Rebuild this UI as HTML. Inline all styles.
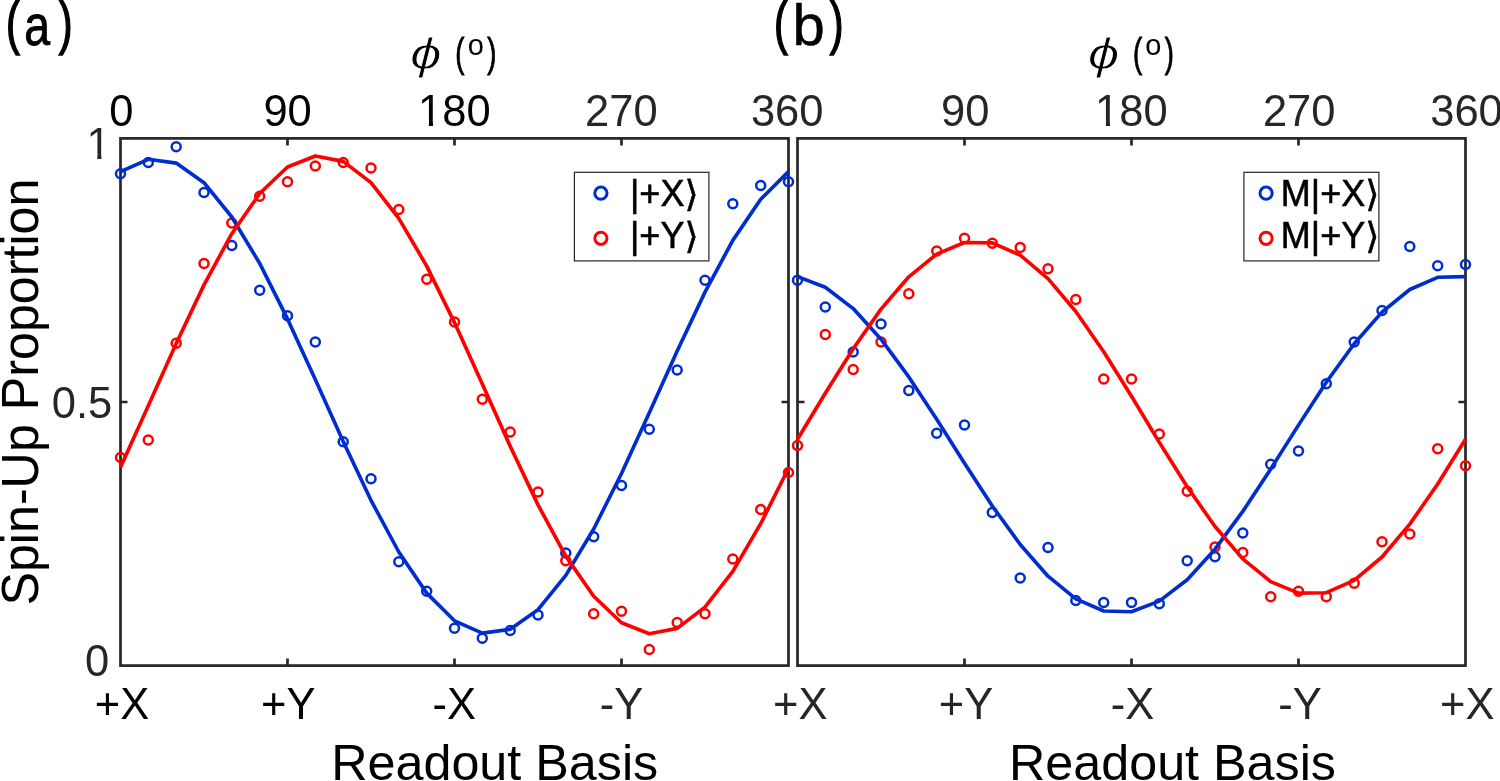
<!DOCTYPE html>
<html lang="en"><head><meta charset="utf-8"><title>Spin-Up Proportion vs Readout Basis</title>
<style>html,body{margin:0;padding:0;background:#fff;overflow:hidden}svg{display:block}text{font-family:"Liberation Sans","DejaVu Sans",sans-serif}.tk{font-size:43.5px}.lb{font-size:50px}.pn{font-size:58px;stroke:#000;stroke-width:.9px}.lg{font-size:36px;stroke:#000;stroke-width:.55px}</style>
</head><body>
<svg width="1500" height="781" viewBox="0 0 1500 781">
<defs><clipPath id="k1"><polygon points="3.19,-31.86 15.29,-31.86 14.87,0.17 10.79,0.17 10.79,-4.89 3.19,-4.89"/></clipPath></defs>
<rect width="1500" height="781" fill="#fff"/>
<rect x="120.5" y="138.4" width="668.0" height="527.2" fill="none" stroke="#262626" stroke-width="2.7"/>
<path d="M287.5,665.6v-7M287.5,138.4v7M454.5,665.6v-7M454.5,138.4v7M621.5,665.6v-7M621.5,138.4v7M120.5,402.0h7M788.5,402.0h-7" stroke="#262626" stroke-width="2.7" fill="none"/>
<g fill="none" stroke="#002dcd" stroke-width="2.5">
<circle cx="120.5" cy="173.8" r="4.5"/>
<circle cx="148.3" cy="162.5" r="4.5"/>
<circle cx="176.2" cy="146.8" r="4.5"/>
<circle cx="204.0" cy="192.5" r="4.5"/>
<circle cx="231.8" cy="245.5" r="4.5"/>
<circle cx="259.7" cy="290.2" r="4.5"/>
<circle cx="287.5" cy="315.8" r="4.5"/>
<circle cx="315.3" cy="342.0" r="4.5"/>
<circle cx="343.2" cy="441.8" r="4.5"/>
<circle cx="371.0" cy="478.8" r="4.5"/>
<circle cx="398.8" cy="561.8" r="4.5"/>
<circle cx="426.7" cy="591.2" r="4.5"/>
<circle cx="454.5" cy="628.2" r="4.5"/>
<circle cx="482.3" cy="638.2" r="4.5"/>
<circle cx="510.2" cy="630.5" r="4.5"/>
<circle cx="538.0" cy="615.0" r="4.5"/>
<circle cx="565.8" cy="553.0" r="4.5"/>
<circle cx="593.7" cy="536.8" r="4.5"/>
<circle cx="621.5" cy="485.5" r="4.5"/>
<circle cx="649.3" cy="429.2" r="4.5"/>
<circle cx="677.2" cy="370.0" r="4.5"/>
<circle cx="705.0" cy="280.2" r="4.5"/>
<circle cx="732.8" cy="203.8" r="4.5"/>
<circle cx="760.7" cy="185.5" r="4.5"/>
<circle cx="788.5" cy="181.8" r="4.5"/>
</g>
<g fill="none" stroke="#ff0000" stroke-width="2.5">
<circle cx="120.5" cy="457.5" r="4.5"/>
<circle cx="148.3" cy="440.0" r="4.5"/>
<circle cx="176.2" cy="343.2" r="4.5"/>
<circle cx="204.0" cy="263.5" r="4.5"/>
<circle cx="231.8" cy="223.0" r="4.5"/>
<circle cx="259.7" cy="196.2" r="4.5"/>
<circle cx="287.5" cy="181.8" r="4.5"/>
<circle cx="315.3" cy="166.0" r="4.5"/>
<circle cx="343.2" cy="162.5" r="4.5"/>
<circle cx="371.0" cy="168.0" r="4.5"/>
<circle cx="398.8" cy="209.5" r="4.5"/>
<circle cx="426.7" cy="279.2" r="4.5"/>
<circle cx="454.5" cy="322.0" r="4.5"/>
<circle cx="482.3" cy="399.2" r="4.5"/>
<circle cx="510.2" cy="432.0" r="4.5"/>
<circle cx="538.0" cy="492.0" r="4.5"/>
<circle cx="565.8" cy="560.8" r="4.5"/>
<circle cx="593.7" cy="613.8" r="4.5"/>
<circle cx="621.5" cy="611.2" r="4.5"/>
<circle cx="649.3" cy="649.5" r="4.5"/>
<circle cx="677.2" cy="622.5" r="4.5"/>
<circle cx="705.0" cy="613.8" r="4.5"/>
<circle cx="732.8" cy="559.0" r="4.5"/>
<circle cx="760.7" cy="509.5" r="4.5"/>
<circle cx="788.5" cy="472.5" r="4.5"/>
</g>
<polyline fill="none" stroke="#002dcd" stroke-width="3.65" stroke-linejoin="round" points="120.5,171.6 148.3,159.3 176.2,163.1 204.0,182.7 231.8,217.0 259.7,263.4 287.5,318.9 315.3,379.6 343.2,441.5 371.0,500.3 398.8,552.0 426.7,593.1 454.5,620.8 482.3,633.1 510.2,629.3 538.0,609.7 565.8,575.4 593.7,529.0 621.5,473.5 649.3,412.8 677.2,350.9 705.0,292.1 732.8,240.4 760.7,199.3 788.5,171.6"/>
<polyline fill="none" stroke="#ff0000" stroke-width="3.65" stroke-linejoin="round" points="120.5,467.2 148.3,405.7 176.2,343.5 204.0,284.9 231.8,233.7 259.7,193.5 287.5,167.0 315.3,156.0 343.2,161.4 371.0,182.6 398.8,218.3 426.7,266.1 454.5,322.6 482.3,384.0 510.2,446.2 538.0,504.9 565.8,556.1 593.7,596.3 621.5,622.8 649.3,633.7 677.2,628.4 705.0,607.1 732.8,571.4 760.7,523.7 788.5,468.2"/>
<rect x="797.5" y="138.4" width="668.0" height="527.2" fill="none" stroke="#262626" stroke-width="2.7"/>
<path d="M964.5,665.6v-7M964.5,138.4v7M1131.5,665.6v-7M1131.5,138.4v7M1298.5,665.6v-7M1298.5,138.4v7M797.5,402.0h7M1465.5,402.0h-7" stroke="#262626" stroke-width="2.7" fill="none"/>
<g fill="none" stroke="#002dcd" stroke-width="2.5">
<circle cx="797.5" cy="280.2" r="4.5"/>
<circle cx="825.3" cy="307.0" r="4.5"/>
<circle cx="853.2" cy="352.0" r="4.5"/>
<circle cx="881.0" cy="324.0" r="4.5"/>
<circle cx="908.8" cy="390.5" r="4.5"/>
<circle cx="936.7" cy="433.2" r="4.5"/>
<circle cx="964.5" cy="425.0" r="4.5"/>
<circle cx="992.3" cy="512.5" r="4.5"/>
<circle cx="1020.2" cy="578.0" r="4.5"/>
<circle cx="1048.0" cy="547.5" r="4.5"/>
<circle cx="1075.8" cy="600.5" r="4.5"/>
<circle cx="1103.7" cy="602.5" r="4.5"/>
<circle cx="1131.5" cy="602.5" r="4.5"/>
<circle cx="1159.3" cy="603.8" r="4.5"/>
<circle cx="1187.2" cy="560.8" r="4.5"/>
<circle cx="1215.0" cy="556.8" r="4.5"/>
<circle cx="1242.8" cy="533.0" r="4.5"/>
<circle cx="1270.7" cy="464.2" r="4.5"/>
<circle cx="1298.5" cy="451.0" r="4.5"/>
<circle cx="1326.3" cy="383.8" r="4.5"/>
<circle cx="1354.2" cy="342.0" r="4.5"/>
<circle cx="1382.0" cy="310.5" r="4.5"/>
<circle cx="1409.8" cy="246.5" r="4.5"/>
<circle cx="1437.7" cy="265.8" r="4.5"/>
<circle cx="1465.5" cy="264.5" r="4.5"/>
</g>
<g fill="none" stroke="#ff0000" stroke-width="2.5">
<circle cx="797.5" cy="445.5" r="4.5"/>
<circle cx="825.3" cy="334.5" r="4.5"/>
<circle cx="853.2" cy="369.5" r="4.5"/>
<circle cx="881.0" cy="342.0" r="4.5"/>
<circle cx="908.8" cy="293.8" r="4.5"/>
<circle cx="936.7" cy="251.0" r="4.5"/>
<circle cx="964.5" cy="238.2" r="4.5"/>
<circle cx="992.3" cy="243.2" r="4.5"/>
<circle cx="1020.2" cy="247.5" r="4.5"/>
<circle cx="1048.0" cy="268.8" r="4.5"/>
<circle cx="1075.8" cy="299.5" r="4.5"/>
<circle cx="1103.7" cy="379.0" r="4.5"/>
<circle cx="1131.5" cy="379.0" r="4.5"/>
<circle cx="1159.3" cy="434.0" r="4.5"/>
<circle cx="1187.2" cy="491.2" r="4.5"/>
<circle cx="1215.0" cy="547.0" r="4.5"/>
<circle cx="1242.8" cy="552.5" r="4.5"/>
<circle cx="1270.7" cy="596.8" r="4.5"/>
<circle cx="1298.5" cy="591.2" r="4.5"/>
<circle cx="1326.3" cy="596.8" r="4.5"/>
<circle cx="1354.2" cy="583.2" r="4.5"/>
<circle cx="1382.0" cy="541.8" r="4.5"/>
<circle cx="1409.8" cy="534.0" r="4.5"/>
<circle cx="1437.7" cy="448.8" r="4.5"/>
<circle cx="1465.5" cy="465.8" r="4.5"/>
</g>
<polyline fill="none" stroke="#002dcd" stroke-width="3.65" stroke-linejoin="round" points="797.5,276.6 825.3,287.2 853.2,308.6 881.0,339.2 908.8,376.9 936.7,419.2 964.5,463.3 992.3,506.0 1020.2,544.5 1048.0,576.2 1075.8,598.9 1103.7,611.0 1131.5,611.8 1159.3,601.1 1187.2,579.8 1215.0,549.2 1242.8,511.4 1270.7,469.1 1298.5,425.1 1326.3,382.3 1354.2,343.8 1382.0,312.1 1409.8,289.5 1437.7,277.3 1465.5,276.6"/>
<polyline fill="none" stroke="#ff0000" stroke-width="3.65" stroke-linejoin="round" points="797.5,439.3 825.3,393.2 853.2,348.8 881.0,309.1 908.8,276.8 936.7,254.1 964.5,242.5 992.3,242.9 1020.2,255.2 1048.0,278.6 1075.8,311.5 1103.7,351.7 1131.5,396.3 1159.3,442.4 1187.2,486.8 1215.0,526.5 1242.8,558.9 1270.7,581.6 1298.5,593.1 1326.3,592.7 1354.2,580.4 1382.0,557.0 1409.8,524.1 1437.7,484.0 1465.5,439.3"/>
<text transform="translate(121.3,126.2) scale(1,1.04)" class="tk" text-anchor="middle" fill="#000">0</text>
<text transform="translate(287.6,126.2) scale(1,1.04)" class="tk" text-anchor="middle" fill="#000">90</text>
<g transform="translate(418.11,126.2) scale(1,1.04)" clip-path="url(#k1)"><text class="tk" fill="#000">1</text></g>
<text transform="translate(442.30,126.2) scale(1,1.04)" class="tk" text-anchor="start" fill="#000">80</text>
<text transform="translate(621.3,126.2) scale(1,1.04)" class="tk" text-anchor="middle" fill="#262626">270</text>
<text transform="translate(787.2,126.2) scale(1,1.04)" class="tk" text-anchor="middle" fill="#262626">360</text>
<text transform="translate(965.3,126.2) scale(1,1.04)" class="tk" text-anchor="middle" fill="#262626">90</text>
<g transform="translate(1095.11,126.2) scale(1,1.04)" clip-path="url(#k1)"><text class="tk" fill="#262626">1</text></g>
<text transform="translate(1119.30,126.2) scale(1,1.04)" class="tk" text-anchor="start" fill="#262626">80</text>
<text transform="translate(1299.2,126.2) scale(1,1.04)" class="tk" text-anchor="middle" fill="#262626">270</text>
<text transform="translate(1466.5,126.2) scale(1,1.04)" class="tk" text-anchor="middle" fill="#262626">360</text>
<text transform="translate(122,719.2) scale(1,1.04)" class="tk" text-anchor="middle" fill="#000">+X</text>
<text transform="translate(288.2,719.2) scale(1,1.04)" class="tk" text-anchor="middle" fill="#000">+Y</text>
<text transform="translate(454.3,719.2) scale(1,1.04)" class="tk" text-anchor="middle" fill="#000">-X</text>
<text transform="translate(621.5,719.2) scale(1,1.04)" class="tk" text-anchor="middle" fill="#262626">-Y</text>
<text transform="translate(800.2,719.2) scale(1,1.04)" class="tk" text-anchor="middle" fill="#262626">+X</text>
<text transform="translate(966,719.2) scale(1,1.04)" class="tk" text-anchor="middle" fill="#262626">+Y</text>
<text transform="translate(1132.5,719.2) scale(1,1.04)" class="tk" text-anchor="middle" fill="#262626">-X</text>
<text transform="translate(1300,719.2) scale(1,1.04)" class="tk" text-anchor="middle" fill="#262626">-Y</text>
<text transform="translate(1467.2,719.2) scale(1,1.04)" class="tk" text-anchor="middle" fill="#262626">+X</text>
<g transform="translate(86.50,158.8) scale(1,1.04)" clip-path="url(#k1)"><text class="tk" fill="#262626">1</text></g>
<text transform="translate(112.3,417.7) scale(1,1.04)" class="tk" text-anchor="end" fill="#262626">0.5</text>
<text transform="translate(109.3,675.9) scale(1,1.04)" class="tk" text-anchor="end" fill="#262626">0</text>
<text transform="translate(410.06,69.0) scale(1.31,1.03)" font-size="43.5px" fill="#000" font-style="italic" stroke="#fff" stroke-width=".75">ϕ</text>
<text transform="translate(455.30,67.2) scale(0.66,1)" font-size="41.5px" fill="#000" stroke="#000" stroke-width="1">(</text>
<text transform="translate(467.68,54.7) scale(1.0,1)" font-size="29px" fill="#000">o</text>
<text transform="translate(487.24,67.2) scale(0.66,1)" font-size="41.5px" fill="#000" stroke="#000" stroke-width="1">)</text>
<text transform="translate(1087.66,69.0) scale(1.31,1.03)" font-size="43.5px" fill="#000" font-style="italic" stroke="#fff" stroke-width=".75">ϕ</text>
<text transform="translate(1132.90,67.2) scale(0.66,1)" font-size="41.5px" fill="#000" stroke="#000" stroke-width="1">(</text>
<text transform="translate(1145.28,54.7) scale(1.0,1)" font-size="29px" fill="#000">o</text>
<text transform="translate(1164.84,67.2) scale(0.66,1)" font-size="41.5px" fill="#000" stroke="#000" stroke-width="1">)</text>
<text transform="translate(494.7,779.8) scale(1,1.01)" class="lb" text-anchor="middle" fill="#000" textLength="327" lengthAdjust="spacingAndGlyphs">Readout Basis</text>
<text transform="translate(1172.5,779.8) scale(1,1.01)" class="lb" text-anchor="middle" fill="#000" textLength="327" lengthAdjust="spacingAndGlyphs">Readout Basis</text>
<text transform="translate(38.3,392.1) rotate(-90) scale(1,1.03)" class="lb" text-anchor="middle" fill="#000" textLength="427" lengthAdjust="spacingAndGlyphs">Spin-Up Proportion</text>
<text transform="translate(5.93,42.6) scale(0.7,1)" class="pn" style="font-size:59.3px;stroke-width:1.6px">(</text>
<text transform="translate(24.33,45.0) scale(0.8,1)" class="pn" style="font-size:58px;stroke-width:0.9px">a</text>
<text transform="translate(58.86,42.6) scale(0.7,1)" class="pn" style="font-size:59.3px;stroke-width:1.6px">)</text>
<text transform="translate(774.03,42.6) scale(0.7,1)" class="pn" style="font-size:59.3px;stroke-width:1.6px">(</text>
<text transform="translate(792.46,44.8) scale(1.0,1)" class="pn" style="font-size:58px;stroke-width:0.5px">b</text>
<text transform="translate(829.66,42.6) scale(0.7,1)" class="pn" style="font-size:59.3px;stroke-width:1.6px">)</text>
<rect x="574.4" y="172.3" width="134.5" height="88.6" fill="#fff" stroke="#262626" stroke-width="1.2"/>
<circle cx="600.9" cy="193.2" r="6.1" fill="none" stroke="#002dcd" stroke-width="3"/>
<circle cx="600.9" cy="238.3" r="6.1" fill="none" stroke="#ff0000" stroke-width="3"/>
<text x="630.0" y="206" class="lg" text-anchor="start" fill="#000">|+X⟩</text>
<text x="630.0" y="247.6" class="lg" text-anchor="start" fill="#000">|+Y⟩</text>
<rect x="1243.9" y="172.3" width="135.0" height="88.6" fill="#fff" stroke="#262626" stroke-width="1.2"/>
<circle cx="1266.1" cy="193.2" r="6.1" fill="none" stroke="#002dcd" stroke-width="3"/>
<circle cx="1266.1" cy="238.3" r="6.1" fill="none" stroke="#ff0000" stroke-width="3"/>
<text x="1280.8" y="206" class="lg" text-anchor="start" fill="#000">M|+X⟩</text>
<text x="1280.8" y="247.6" class="lg" text-anchor="start" fill="#000">M|+Y⟩</text>
</svg>
</body></html>
